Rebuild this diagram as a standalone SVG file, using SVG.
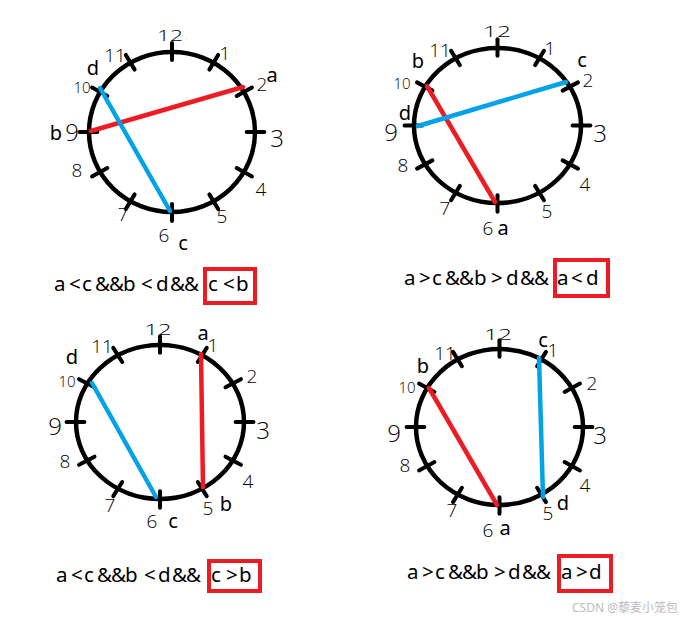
<svg xmlns="http://www.w3.org/2000/svg" xmlns:xlink="http://www.w3.org/1999/xlink" width="687" height="620" viewBox="0 0 687 620">
<style>
.face circle{fill:none;stroke:#000;stroke-width:4.5;vector-effect:non-scaling-stroke}
.face line{stroke:#000;stroke-width:4;stroke-linecap:round;vector-effect:non-scaling-stroke}
.n{font-family:"Open Sans","DejaVu Sans",sans-serif;font-weight:300;font-size:19px;fill:#000;text-anchor:middle}
.big{font-size:24px}
.sm{font-size:15px}
.l{font-family:"Noto Sans","Liberation Sans",sans-serif;font-size:20px;fill:#000;text-anchor:middle}
.red{stroke:#ED1C24;stroke-width:4.5;stroke-linecap:round;fill:none}
.blue{stroke:#00A2E8;stroke-width:4.5;stroke-linecap:round;fill:none}
.f{font-family:"Noto Sans","Liberation Sans",sans-serif;font-size:20.5px;fill:#000}
.box{fill:none;stroke:#ED1C24;stroke-width:4}
.wm{font-family:"Noto Sans","Noto Sans CJK SC",sans-serif;font-size:12px;fill:#bbbbbb}
</style>
<defs>
<g id="face" class="face">
<circle cx="0" cy="0" r="80"/>
<line x1="0" y1="-72" x2="0" y2="-89"/>
<line x1="0" y1="-72" x2="0" y2="-89" transform="rotate(30)"/>
<line x1="0" y1="-72" x2="0" y2="-89" transform="rotate(60)"/>
<line x1="0" y1="-72" x2="0" y2="-89" transform="rotate(90)"/>
<line x1="0" y1="-72" x2="0" y2="-89" transform="rotate(120)"/>
<line x1="0" y1="-72" x2="0" y2="-89" transform="rotate(150)"/>
<line x1="0" y1="-72" x2="0" y2="-89" transform="rotate(180)"/>
<line x1="0" y1="-72" x2="0" y2="-89" transform="rotate(210)"/>
<line x1="0" y1="-72" x2="0" y2="-89" transform="rotate(240)"/>
<line x1="0" y1="-72" x2="0" y2="-89" transform="rotate(270)"/>
<line x1="0" y1="-72" x2="0" y2="-89" transform="rotate(300)"/>
<line x1="0" y1="-72" x2="0" y2="-89" transform="rotate(330)"/>
</g>
</defs>
<rect width="687" height="620" fill="#fff"/>

<g id="clock1">
<use xlink:href="#face" href="#face" transform="translate(172,132) scale(1.0375,1)"/>
<text class="n sm" x="170" y="41" textLength="26" lengthAdjust="spacingAndGlyphs">12</text>
<text class="n" x="115" y="62">11</text>
<text class="n" x="225" y="60">1</text>
<text class="n" x="262" y="91">2</text>
<text class="n big" x="277" y="147">3</text>
<text class="n" x="261" y="196">4</text>
<text class="n" x="222" y="223">5</text>
<text class="n" x="164" y="242">6</text>
<text class="n" x="123" y="221">7</text>
<text class="n" x="77" y="177">8</text>
<text class="n big" x="72" y="141">9</text>
<text class="n sm" x="82" y="93">10</text>
<text class="l" x="272" y="82">a</text>
<text class="l" x="56" y="140">b</text>
<text class="l" x="183" y="250">c</text>
<text class="l" x="93" y="75">d</text>
</g>

<g id="clock2">
<use xlink:href="#face" href="#face" transform="translate(497.5,125.5) scale(1.044,0.969)"/>
<text class="n sm" x="497" y="37" textLength="28" lengthAdjust="spacingAndGlyphs">12</text>
<text class="n" x="440" y="57">11</text>
<text class="n" x="550" y="55">1</text>
<text class="n" x="588" y="87">2</text>
<text class="n big" x="600" y="142">3</text>
<text class="n" x="585" y="191">4</text>
<text class="n" x="547" y="218">5</text>
<text class="n" x="488" y="235">6</text>
<text class="n" x="445" y="215">7</text>
<text class="n" x="403" y="172">8</text>
<text class="n big" x="391" y="141">9</text>
<text class="n sm" x="402" y="89">10</text>
<text class="l" x="503" y="235">a</text>
<text class="l" x="418" y="68">b</text>
<text class="l" x="582" y="67">c</text>
<text class="l" x="405" y="120">d</text>
</g>

<g id="clock3">
<use xlink:href="#face" href="#face" transform="translate(160,422) scale(1.05,0.9625)"/>
<text class="n sm" x="158" y="335" textLength="27" lengthAdjust="spacingAndGlyphs">12</text>
<text class="n" x="213" y="352">1</text>
<text class="n" x="102" y="353">11</text>
<text class="n sm" x="67" y="387">10</text>
<text class="n big" x="55" y="435">9</text>
<text class="n" x="65" y="468">8</text>
<text class="n" x="110" y="512">7</text>
<text class="n" x="152" y="528">6</text>
<text class="n" x="208" y="515">5</text>
<text class="n" x="248" y="488">4</text>
<text class="n big" x="263" y="439">3</text>
<text class="n" x="252" y="383">2</text>
<text class="l" x="203" y="340">a</text>
<text class="l" x="226" y="511">b</text>
<text class="l" x="173" y="528">c</text>
<text class="l" x="72" y="364">d</text>
</g>

<g id="clock4">
<use xlink:href="#face" href="#face" transform="translate(499.5,427) scale(1.044,0.975)"/>
<text class="n sm" x="498" y="340" textLength="28" lengthAdjust="spacingAndGlyphs">12</text>
<text class="n" x="553" y="357">1</text>
<text class="n" x="445" y="360">11</text>
<text class="n sm" x="407" y="393">10</text>
<text class="n big" x="394" y="442">9</text>
<text class="n" x="405" y="472">8</text>
<text class="n" x="452" y="517">7</text>
<text class="n" x="488" y="537">6</text>
<text class="n" x="548" y="520">5</text>
<text class="n" x="585" y="492">4</text>
<text class="n big" x="600" y="444">3</text>
<text class="n" x="592" y="390">2</text>
<text class="l" x="505" y="535">a</text>
<text class="l" x="423" y="373">b</text>
<text class="l" x="543" y="347">c</text>
<text class="l" x="563" y="510">d</text>
</g>

<g id="connectors">
<line class="red" x1="243" y1="87" x2="91" y2="131"/>
<line class="blue" x1="100" y1="88" x2="170" y2="211"/>
<line class="red" x1="427" y1="86" x2="495" y2="202"/>
<line class="blue" x1="418" y1="126" x2="566" y2="82"/>
<line class="red" x1="201" y1="354" x2="203" y2="487"/>
<line class="blue" x1="92" y1="383" x2="156" y2="497"/>
<line class="red" x1="429" y1="388" x2="497" y2="505"/>
<line class="blue" x1="539" y1="358" x2="543" y2="497"/>
</g>

<g id="formulas">
<text class="f" x="54 69 82 95 109 123 141 156 170 184 208 223 236" y="291">a&lt;c&amp;&amp;b&lt;d&amp;&amp;c&lt;b</text>
<rect class="box" x="205" y="269" width="50" height="34"/>
<text class="f" x="404 419 432 445 459 474 491 506 520 534 557 571 586" y="285">a&gt;c&amp;&amp;b&gt;d&amp;&amp;a&lt;d</text>
<rect class="box" x="555" y="260" width="53" height="36"/>
<text class="f" x="56 71 84 97 111 125 144 158 172 186 211 226 239" y="582">a&lt;c&amp;&amp;b&lt;d&amp;&amp;c&gt;b</text>
<rect class="box" x="209" y="561" width="51" height="30"/>
<text class="f" x="407 422 435 448 462 476 494 508 522 536 561 576 589" y="579">a&gt;c&amp;&amp;b&gt;d&amp;&amp;a&gt;d</text>
<rect class="box" x="559" y="556" width="52" height="35"/>
<text class="wm" x="572" y="612" textLength="106" lengthAdjust="spacingAndGlyphs">CSDN @藜麦小笼包</text>
</g>
</svg>
